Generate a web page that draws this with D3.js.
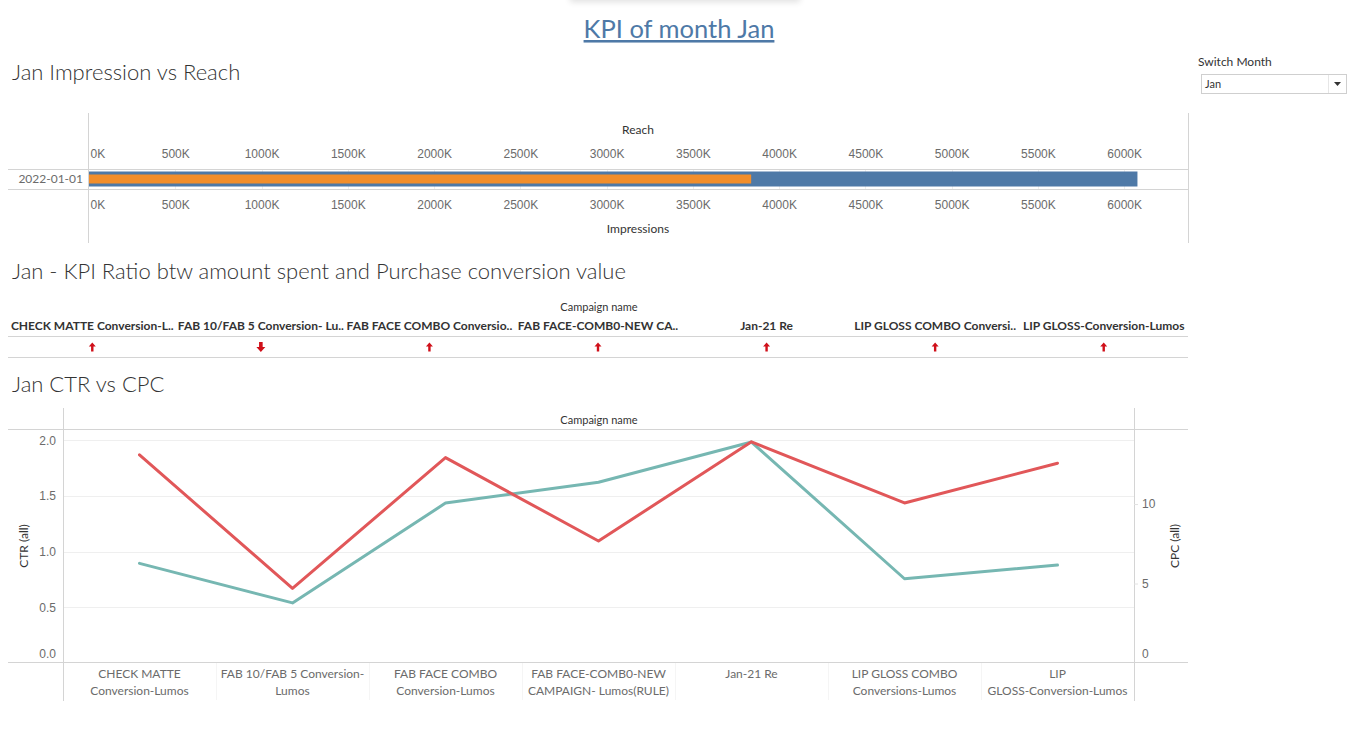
<!DOCTYPE html>
<html>
<head>
<meta charset="utf-8">
<script src="https://cdn.jsdelivr.net/npm/d3@7"></script>
<style>
  html, body { margin: 0; padding: 0; background: #fff; }
  svg { display: block; font-family: Lato, "Open Sans", sans-serif; }
</style>
</head>
<body>
<svg id="chart" width="1359" height="732"></svg>
<script>
// ---------------- DATA ----------------
const month = "Jan";
const reachDates = ["2022-01-01"];
const reachValues = [3838000];
const impressionValues = [6077000];
const reachTicks = [0, 500000, 1000000, 1500000, 2000000, 2500000, 3000000, 3500000, 4000000, 4500000, 5000000, 5500000, 6000000];

const campaigns = [
  "CHECK MATTE Conversion-Lumos",
  "FAB 10/FAB 5 Conversion- Lumos",
  "FAB FACE COMBO Conversion-Lumos",
  "FAB FACE-COMB0-NEW CAMPAIGN- Lumos(RULE)",
  "Jan-21 Re",
  "LIP GLOSS COMBO Conversions-Lumos",
  "LIP GLOSS-Conversion-Lumos"
];
const ratioDirection = ["up", "down", "up", "up", "up", "up", "up"];
const ctrValues = [1.87, 0.67, 1.845, 1.096, 1.987, 1.438, 1.795];
const cpcValues = [6.27, 3.78, 10.06, 11.37, 13.9, 5.30, 6.16];
const ctrTicks = [0, 0.5, 1.0, 1.5, 2.0];
const cpcTicks = [0, 5, 10];

// ---------------- DRAW ----------------
const svg = d3.select("#chart");
const darkText = "#333";
const axisText = "#6b6b6b";
const lineCol = "#d4d4d4";
const gridCol = "#efefef";
const orange = "#F28E2B", blue = "#4E79A7", red = "#E15759", teal = "#76B7B2";

// faint shadow at top
svg.append("defs").html('<filter id="sh" x="-20%" y="-200%" width="140%" height="500%"><feGaussianBlur stdDeviation="3"/></filter>');
svg.append("rect").attr("x", 570).attr("y", -14).attr("width", 230).attr("height", 16)
  .attr("fill", "#000").attr("opacity", 0.12).attr("filter", "url(#sh)");
svg.append("rect").attr("x", 560).attr("y", -20).attr("width", 250).attr("height", 20).attr("fill", "#fff");

// Title
svg.append("text").attr("x", 679).attr("y", 38).attr("text-anchor", "middle")
  .attr("font-size", 25.5).attr("fill", blue).attr("text-decoration", "underline")
  .text(`KPI of month ${month}`);

// Switch month control
svg.append("text").attr("x", 1198).attr("y", 66).attr("font-size", 12).attr("fill", darkText).text("Switch Month");
svg.append("rect").attr("x", 1201.5).attr("y", 74.5).attr("width", 145).attr("height", 19)
  .attr("fill", "#fff").attr("stroke", "#cfcfcf");
svg.append("line").attr("x1", 1328.5).attr("x2", 1328.5).attr("y1", 75).attr("y2", 93).attr("stroke", "#e6e6e6");
svg.append("text").attr("x", 1205).attr("y", 88).attr("font-size", 11).attr("fill", darkText).text(month);
svg.append("path").attr("d", "M1334,82 L1341,82 L1337.5,86 Z").attr("fill", "#333");

// Section titles
function sectionTitle(y, t) {
  svg.append("text").attr("x", 12).attr("y", y).attr("font-size", 22).attr("font-weight", 300)
    .attr("fill", darkText).text(t);
}
sectionTitle(80, `${month} Impression vs Reach`);
sectionTitle(279, `${month} - KPI Ratio btw amount spent and Purchase conversion value`);
sectionTitle(392, `${month} CTR vs CPC`);

// ---------- Chart 1: Impression vs Reach ----------
const x1 = d3.scaleLinear().domain([0, 6370000]).range([89, 1188]);
const rowTop = 169, rowBot = 189;
const yRow = d3.scaleBand().domain(reachDates).range([rowTop, rowBot]);
const fmtK = v => `${Math.round(v / 1000)}K`;

const g1 = svg.append("g");
// frame lines
g1.append("line").attr("x1", 88.5).attr("x2", 88.5).attr("y1", 113).attr("y2", 243).attr("stroke", lineCol);
g1.append("line").attr("x1", 1188.5).attr("x2", 1188.5).attr("y1", 113).attr("y2", 243).attr("stroke", lineCol);
[rowTop, rowBot].forEach(y => g1.append("line").attr("x1", 8).attr("x2", 1188).attr("y1", y + 0.5).attr("y2", y + 0.5).attr("stroke", lineCol));
// grid within the row
g1.selectAll(".vg").data(reachTicks.slice(1)).join("line")
  .attr("x1", d => Math.round(x1(d)) + 0.5).attr("x2", d => Math.round(x1(d)) + 0.5)
  .attr("y1", rowTop + 1).attr("y2", rowBot).attr("stroke", gridCol);
// top & bottom axes via d3.axis
function reachAxis(axisFn, y) {
  const a = g1.append("g").attr("transform", `translate(0,${y})`)
    .call(axisFn(x1).tickValues(reachTicks).tickFormat(fmtK).tickSize(0).tickPadding(0));
  a.select(".domain").remove();
  a.selectAll("text").attr("font-size", 12).attr("fill", axisText).attr("font-family", null)
    .attr("text-anchor", d => d === 0 ? "start" : "middle").attr("dx", d => d === 0 ? 1 : 0)
    .attr("dy", null).attr("y", 0);
  return a;
}
reachAxis(d3.axisTop, 158);
reachAxis(d3.axisBottom, 209);
g1.append("text").attr("x", 638).attr("y", 134).attr("text-anchor", "middle").attr("font-size", 12).attr("fill", darkText).text("Reach");
g1.append("text").attr("x", 638).attr("y", 233).attr("text-anchor", "middle").attr("font-size", 12).attr("fill", darkText).text("Impressions");
// row label
g1.selectAll(".rl").data(reachDates).join("text")
  .attr("x", 83).attr("y", d => yRow(d) + yRow.bandwidth() / 2 + 4)
  .attr("text-anchor", "end").attr("font-size", 12).attr("fill", axisText).text(d => d);
// bars
g1.selectAll(".imp").data(reachDates).join("rect")
  .attr("x", x1(0)).attr("y", d => yRow(d) + 2.5).attr("height", 15)
  .attr("width", (d, i) => x1(impressionValues[i]) - x1(0)).attr("fill", blue);
g1.selectAll(".rch").data(reachDates).join("rect")
  .attr("x", x1(0)).attr("y", d => yRow(d) + 5.5).attr("height", 9)
  .attr("width", (d, i) => x1(reachValues[i]) - x1(0)).attr("fill", orange);

// ---------- Chart 2: KPI ratio table ----------
const xCol = d3.scaleBand().domain(campaigns).range([8, 1188]);
const g2 = svg.append("g");
g2.append("text").attr("x", 599).attr("y", 311).attr("text-anchor", "middle").attr("font-size", 11).attr("fill", darkText).text("Campaign name");
g2.append("line").attr("x1", 8).attr("x2", 1188).attr("y1", 336.5).attr("y2", 336.5).attr("stroke", lineCol);
g2.append("line").attr("x1", 8).attr("x2", 1188).attr("y1", 357.5).attr("y2", 357.5).attr("stroke", lineCol);
const headers = g2.selectAll(".hd").data(campaigns).join("text")
  .attr("x", d => xCol(d) + xCol.bandwidth() / 2).attr("y", 330)
  .attr("text-anchor", "middle").attr("font-size", 12).attr("font-weight", 700).attr("fill", darkText)
  .text(d => d);
headers.each(function (d) {
  const el = d3.select(this);
  const maxW = xCol.bandwidth() - 2;
  if (this.getComputedTextLength() > maxW) {
    let s = d;
    while (s.length > 1) {
      s = s.slice(0, -1);
      el.text(s.trimEnd() + "..");
      if (this.getComputedTextLength() <= maxW) break;
    }
  }
});
const upPath = "M0,-4.5 L3.5,-0.5 L1.2,-0.5 L1.2,4.5 L-1.2,4.5 L-1.2,-0.5 L-3.5,-0.5 Z";
const downPath = "M0,5 L4.5,0 L1.8,0 L1.8,-5 L-1.8,-5 L-1.8,0 L-4.5,0 Z";
g2.selectAll(".ar").data(campaigns).join("path")
  .attr("transform", d => `translate(${xCol(d) + xCol.bandwidth() / 2},347)`)
  .attr("d", (d, i) => ratioDirection[i] === "up" ? upPath : downPath)
  .attr("fill", "#d0101a");

// ---------- Chart 3: CTR vs CPC ----------
const g3 = svg.append("g");
const paneL = 63, paneR = 1134, paneT = 429, paneB = 663;
const xB = d3.scaleBand().domain(campaigns).range([paneL, paneR]);
const yCtr = d3.scaleLinear().domain([0, d3.max(ctrValues) * 1.058]).range([paneB, paneT]);
const yCpc = d3.scaleLinear().domain([0, d3.max(cpcValues) * 1.059]).range([paneB, paneT]);

// gridlines
g3.selectAll(".hg").data(ctrTicks.slice(1)).join("line")
  .attr("x1", paneL).attr("x2", paneR)
  .attr("y1", d => Math.round(yCtr(d)) + 0.5).attr("y2", d => Math.round(yCtr(d)) + 0.5).attr("stroke", gridCol);
// frame
g3.append("text").attr("x", 599).attr("y", 424).attr("text-anchor", "middle").attr("font-size", 11).attr("fill", darkText).text("Campaign name");
g3.append("line").attr("x1", 8).attr("x2", 1188).attr("y1", 429.5).attr("y2", 429.5).attr("stroke", lineCol);
g3.append("line").attr("x1", 8).attr("x2", 1188).attr("y1", 662.5).attr("y2", 662.5).attr("stroke", lineCol);
g3.append("line").attr("x1", 63.5).attr("x2", 63.5).attr("y1", 408).attr("y2", 701).attr("stroke", lineCol);
g3.append("line").attr("x1", 1134.5).attr("x2", 1134.5).attr("y1", 408).attr("y2", 701).attr("stroke", lineCol);
// column dividers under axis
g3.selectAll(".cd").data(campaigns.slice(1)).join("line")
  .attr("x1", d => Math.round(xB(d)) + 0.5).attr("x2", d => Math.round(xB(d)) + 0.5)
  .attr("y1", 663).attr("y2", 700).attr("stroke", "#f5f5f5");

// left axis
const la = g3.append("g").attr("transform", `translate(${paneL - 7},0)`)
  .call(d3.axisLeft(yCtr).tickValues(ctrTicks).tickFormat(d3.format(".1f")).tickSize(0).tickPadding(0));
la.select(".domain").remove();
la.selectAll("text").attr("font-size", 12).attr("fill", axisText).attr("font-family", null)
  .attr("dy", d => d === 0 ? "-0.45em" : "0.32em");
// right axis
const ra = g3.append("g").attr("transform", `translate(${paneR},0)`)
  .call(d3.axisRight(yCpc).tickValues(cpcTicks).tickSize(4).tickPadding(4));
ra.select(".domain").remove();
ra.selectAll("line").attr("stroke", "#e2e2e2");
ra.selectAll("text").attr("font-size", 12).attr("fill", axisText).attr("font-family", null)
  .attr("dy", d => d === 0 ? "-0.45em" : "0.32em");
ra.selectAll(".tick").filter(d => d === 0).select("line").remove();

g3.append("text").attr("transform", `translate(28,${(paneT + paneB) / 2}) rotate(-90)`)
  .attr("text-anchor", "middle").attr("font-size", 12).attr("fill", darkText).text("CTR (all)");
g3.append("text").attr("transform", `translate(1179,${(paneT + paneB) / 2}) rotate(-90)`)
  .attr("text-anchor", "middle").attr("font-size", 12).attr("fill", darkText).text("CPC (all)");

// x labels (wrapped at spaces)
const xl = g3.selectAll(".xl").data(campaigns).join("text")
  .attr("x", d => xB(d) + xB.bandwidth() / 2).attr("y", 678)
  .attr("text-anchor", "middle").attr("font-size", 12).attr("fill", axisText);
xl.each(function (d) {
  const el = d3.select(this);
  const words = d.split(" ");
  const maxW = xB.bandwidth() - 4;
  let lines = [], cur = [];
  let tsp = el.append("tspan").attr("x", xB(d) + xB.bandwidth() / 2);
  words.forEach(w => {
    cur.push(w);
    tsp.text(cur.join(" "));
    if (tsp.node().getComputedTextLength() > maxW && cur.length > 1) {
      cur.pop();
      lines.push(cur.join(" "));
      cur = [w];
      tsp.text(w);
    }
  });
  lines.push(cur.join(" "));
  el.text(null);
  lines.forEach((ln, i) => el.append("tspan").attr("x", xB(d) + xB.bandwidth() / 2)
    .attr("dy", i === 0 ? 0 : 17).text(ln));
});

// lines
const cx = d => xB(d) + xB.bandwidth() / 2;
const lineCtr = d3.line().x((d, i) => cx(campaigns[i])).y(d => yCtr(d));
const lineCpc = d3.line().x((d, i) => cx(campaigns[i])).y(d => yCpc(d));
g3.append("path").datum(cpcValues).attr("d", lineCpc).attr("fill", "none")
  .attr("stroke", teal).attr("stroke-width", 3).attr("stroke-linejoin", "round").attr("stroke-linecap", "round");
g3.append("path").datum(ctrValues).attr("d", lineCtr).attr("fill", "none")
  .attr("stroke", red).attr("stroke-width", 3).attr("stroke-linejoin", "round").attr("stroke-linecap", "round");
</script>
</body>
</html>
